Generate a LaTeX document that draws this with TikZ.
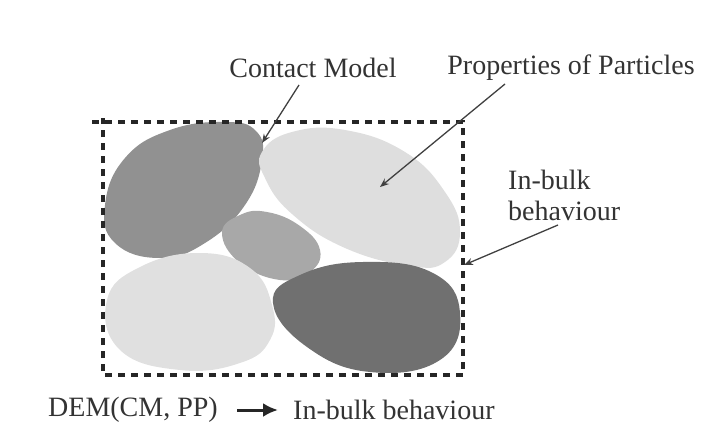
\documentclass[tikz,border=0pt]{standalone}
\usepackage{fontspec}
\setmainfont{Liberation Serif}
\usetikzlibrary{arrows.meta}
\begin{document}
\begin{tikzpicture}[x=1pt,y=-1pt,
  lbl/.style={font=\fontsize{28}{31}\selectfont, text=black!80, inner sep=0pt},
  pointer/.style={draw=black!75, line width=1.3pt, -{Stealth[length=9pt,width=7pt]}}]
\useasboundingbox (0,0) rectangle (723,436);
% particles
\fill[black!43] plot[smooth cycle, tension=0.75] coordinates {(105,205) (125,158) (170,130) (225,122) (256,131) (262,160) (245,205) (205,243) (160,258) (115,243)};
\fill[black!13] plot[smooth cycle, tension=0.75] coordinates {(262,152) (292,132) (345,130) (405,152) (445,192) (460,232) (445,262) (410,266) (345,248) (292,214) (265,178)};
\fill[black!34] plot[smooth cycle, tension=0.75] coordinates {(222,233) (240,215) (267,212) (300,226) (320,250) (310,272) (280,280) (240,263)};
\fill[black!12] plot[smooth cycle, tension=0.75] coordinates {(107,300) (140,267) (200,253) (250,268) (272,305) (270,340) (240,363) (180,370) (120,350)};
\fill[black!56] plot[smooth cycle, tension=0.75] coordinates {(273,303) (300,275) (363,262) (433,273) (460,313) (440,360) (370,372) (307,347)};
% dashed box
\draw[line width=3.4pt, black!85, dash pattern=on 7pt off 6pt] (92,122) -- (463,122) -- (463,375) -- (103,375) -- (103,118);
% labels
\node[lbl] (cm) at (313,68) {Contact Model};
\node[lbl] (pp) at (571,68) {Properties of Particles};
\node[lbl, align=left, anchor=west] (ib) at (508,195) {In-bulk\\behaviour};
\coordinate (cmEnd) at (262,143);
\coordinate (ppEnd) at (380,187);
\coordinate (ibEnd) at (464,265);
\coordinate (cmStart) at (299,85);
\coordinate (ppStart) at (505,84);
\coordinate (ibStart) at (558,225);
\draw[pointer] (cmStart) -- (cmEnd);
\draw[pointer] (ppStart) -- (ppEnd);
\draw[pointer] (ibStart) -- (ibEnd);
% formula
\node[lbl, anchor=west] (dem) at (48,410) {DEM(CM, PP)};
\node[lbl, anchor=west] (res) at (293,410) {In-bulk behaviour};
\draw[line width=3pt, black!85, -{Latex[length=15pt,width=14pt]}] ([xshift=-56pt]res.west) -- ([xshift=-15pt]res.west);
\end{tikzpicture}
\end{document}
